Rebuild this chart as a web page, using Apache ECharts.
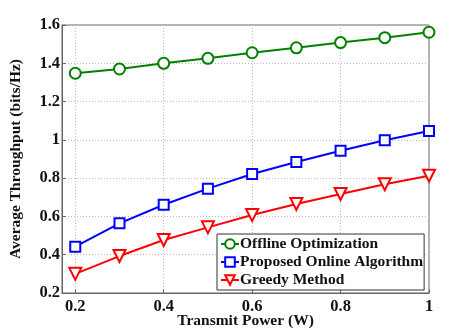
<!DOCTYPE html>
<html><head><meta charset="utf-8">
<script src="https://cdn.jsdelivr.net/npm/echarts@6/dist/echarts.min.js"></script>
<style>html,body{margin:0;padding:0;background:#fff}#c{width:474px;height:330px}</style>
</head><body><div id="c"></div>
<script>
var power = [0.2, 0.3, 0.4, 0.5, 0.6, 0.7, 0.8, 0.9, 1.0];
var offline = [1.348, 1.370, 1.400, 1.426, 1.455, 1.481, 1.508, 1.534, 1.562];
var online = [0.442, 0.564, 0.661, 0.745, 0.822, 0.884, 0.943, 0.998, 1.046];
var greedy = [0.300, 0.393, 0.477, 0.543, 0.607, 0.665, 0.717, 0.768, 0.813];
var xTicks = [0.2, 0.4, 0.6, 0.8, 1.0];
var names = ['Offline Optimization', 'Proposed Online Algorithm', 'Greedy Method'];

function pairs(ys){ return power.map(function(x,i){ return [x, ys[i]]; }); }
var font = 'Liberation Serif, Times New Roman, serif';
function fmt(v){ return String(Math.round(v*10)/10); }

var chart = echarts.init(document.getElementById('c'), null, {renderer:'canvas'});
chart.setOption({
  animation:false,
  backgroundColor:'#fff',
  grid:{left:62, right:45, top:25, bottom:37, outerBoundsMode:'none', containLabel:false,
        show:true, borderColor:'#666', borderWidth:1, backgroundColor:'transparent'},
  xAxis:[{
    type:'value', min:0.17, max:1.0, position:'bottom',
    name:'Transmit Power (W)', nameLocation:'middle', nameGap:20, nameMoveOverlap:false,
    nameTextStyle:{fontFamily:font, fontWeight:'bold', fontSize:15.5, color:'#111'},
    axisLine:{show:true, lineStyle:{color:'#666'}},
    axisTick:{show:true, inside:true, length:4, customValues:xTicks, lineStyle:{color:'#666'}},
    axisLabel:{customValues:xTicks, formatter:fmt, fontFamily:font, fontWeight:'bold', fontSize:16.5, color:'#111', margin:5},
    splitLine:{show:true, lineStyle:{type:[1,2], color:'#bbb'}}
  }],
  yAxis:[{
    type:'value', min:0.2, max:1.6, interval:0.2,
    name:'Average Throughput (bits/Hz)', nameLocation:'middle', nameGap:38, nameMoveOverlap:false,
    nameTextStyle:{fontFamily:font, fontWeight:'bold', fontSize:15.5, color:'#111'},
    axisLine:{show:true, lineStyle:{color:'#666'}},
    axisTick:{show:true, inside:true, length:4, lineStyle:{color:'#666'}},
    axisLabel:{formatter:fmt, fontFamily:font, fontWeight:'bold', fontSize:16.5, color:'#111', margin:2},
    splitLine:{show:true, lineStyle:{type:[1,2], color:'#bbb'}}
  }],
  legend:{
    data:names, orient:'vertical', left:217, top:234,
    backgroundColor:'#fff', borderColor:'#333', borderWidth:1,
    padding:[2,1,2,3], itemGap:2, itemWidth:18, itemHeight:12,
    textStyle:{fontFamily:font, fontWeight:'bold', fontSize:15.5, color:'#111', padding:[0,0,0,-4]}
  },
  series:[
    {name:names[0], type:'line', data:pairs(offline), symbol:'circle', symbolSize:11,
     lineStyle:{color:'#008000', width:2}, itemStyle:{color:'#fff', borderColor:'#008000', borderWidth:2}, color:'#008000'},
    {name:names[1], type:'line', data:pairs(online), symbol:'rect', symbolSize:10,
     lineStyle:{color:'#0000ff', width:2}, itemStyle:{color:'#fff', borderColor:'#0000ff', borderWidth:2}, color:'#0000ff'},
    {name:names[2], type:'line', data:pairs(greedy), symbol:'triangle', symbolRotate:180, symbolSize:12,
     lineStyle:{color:'#ff0000', width:2}, itemStyle:{color:'#fff', borderColor:'#ff0000', borderWidth:2}, color:'#ff0000'}
  ]
});
</script></body></html>
